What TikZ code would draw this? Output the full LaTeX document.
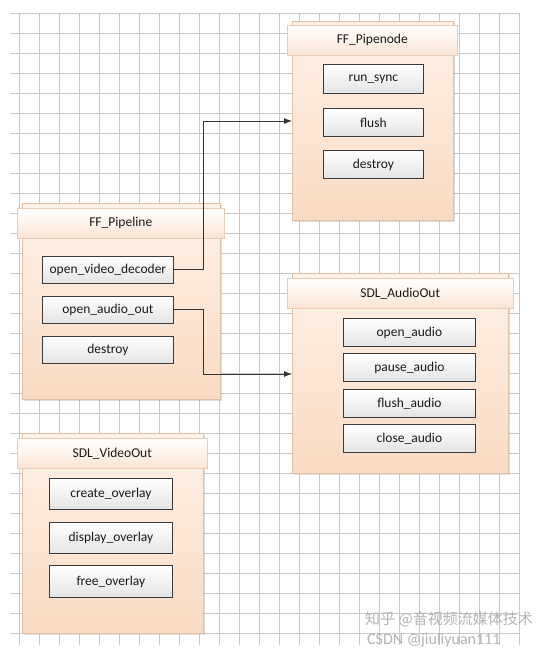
\documentclass[tikz,border=0pt]{standalone}
\usepackage{fontspec}
\setmainfont{Carlito}
\newfontfamily\cjkfont{Noto Sans CJK SC}
\usetikzlibrary{arrows.meta,shadows}
\definecolor{gridc}{HTML}{C8C8C8}
\definecolor{bodytop}{HTML}{FDF1E8}
\definecolor{bodybot}{HTML}{F9DBC3}
\definecolor{bodyline}{HTML}{E3BFA3}
\definecolor{headtop}{HTML}{FFFFFF}
\definecolor{headbot}{HTML}{FBE4D4}
\definecolor{itemtop}{HTML}{FFFFFF}
\definecolor{itembot}{HTML}{E4E4E4}
\definecolor{itemline}{HTML}{3A3A3A}
\definecolor{wmark}{HTML}{B4B4B4}
\tikzset{
  gridline/.style={draw=gridc, line width=0.6pt},
  groupbody/.style={draw=bodyline, line width=0.7pt, top color=bodytop, bottom color=bodybot,
    anchor=north west, inner sep=0pt, drop shadow={shadow xshift=1.2pt, shadow yshift=-1.2pt, opacity=0.25}},
  grouphead/.style={draw=bodyline!80, line width=0.6pt, top color=headtop, bottom color=headbot,
    anchor=north west, inner sep=0pt, font=\fontsize{13.5}{15}\selectfont, text=black!90},
  itembox/.style={draw=itemline, line width=0.8pt, top color=itemtop, bottom color=itembot,
    anchor=north west, inner sep=0pt, font=\fontsize{13.5}{15}\selectfont, text=black!90},
  link/.style={draw=black!80, line width=0.9pt, -{Latex[length=8pt,width=6pt]}},
  wm/.style={text=wmark, anchor=west, inner sep=0pt}
}
\begin{document}
\begin{tikzpicture}[x=1pt,y=-1pt]
\useasboundingbox[fill=white] (0,0) rectangle (548,653);
% grid
\foreach \gx in {19,39,...,519} \draw[gridline] (\gx,13) -- (\gx,645);
\foreach \gy in {13,33,...,633} \draw[gridline] (10,\gy) -- (520,\gy);

% FF_Pipenode
\node[groupbody, minimum width=161pt, minimum height=199pt] (pnbody) at (292,21) {};
\node[grouphead, minimum width=170pt, minimum height=30pt] (pnhead) at (287,25) {FF\_Pipenode};
\node[itembox, minimum width=100pt, minimum height=29pt] (runsync) at (323,64) {run\_sync};
\node[itembox, minimum width=100pt, minimum height=28pt] (pnflush) at (323,108) {flush};
\node[itembox, minimum width=100pt, minimum height=28pt] (pndestroy) at (323,150) {destroy};

% FF_Pipeline
\node[groupbody, minimum width=198pt, minimum height=196pt] (plbody) at (22,203) {};
\node[grouphead, minimum width=207pt, minimum height=30pt] (plhead) at (17,208) {FF\_Pipeline};
\node[itembox, minimum width=131pt, minimum height=27pt] (ovd) at (42,256) {open\_video\_decoder};
\node[itembox, minimum width=131pt, minimum height=27pt] (oao) at (42,296) {open\_audio\_out};
\node[itembox, minimum width=131pt, minimum height=27pt] (pldestroy) at (42,336) {destroy};

% SDL_AudioOut
\node[groupbody, minimum width=216pt, minimum height=200pt] (aobody) at (292,273) {};
\node[grouphead, minimum width=226pt, minimum height=30pt] (aohead) at (287,278) {SDL\_AudioOut};
\node[itembox, minimum width=132pt, minimum height=28pt] (openaudio) at (343,318) {open\_audio};
\node[itembox, minimum width=132pt, minimum height=28pt] (pauseaudio) at (343,353) {pause\_audio};
\node[itembox, minimum width=132pt, minimum height=28pt] (flushaudio) at (343,389) {flush\_audio};
\node[itembox, minimum width=132pt, minimum height=28pt] (closeaudio) at (343,424) {close\_audio};

% SDL_VideoOut
\node[groupbody, minimum width=181pt, minimum height=200pt] (vobody) at (22,433) {};
\node[grouphead, minimum width=190pt, minimum height=30pt] (vohead) at (17,438) {SDL\_VideoOut};
\node[itembox, minimum width=123pt, minimum height=31pt] (createov) at (49,478) {create\_overlay};
\node[itembox, minimum width=123pt, minimum height=31pt] (displayov) at (49,522) {display\_overlay};
\node[itembox, minimum width=123pt, minimum height=32pt] (freeov) at (49,565) {free\_overlay};

% connectors
\draw[link] (ovd.east) -- (203,0 |- ovd.east) -- (203,121) -- (pnbody.west |- 0,121);
\draw[link] (oao.east) -- (203,0 |- oao.east) -- (203,374) -- (aobody.west |- 0,374);

% watermarks
\node[wm, font=\fontsize{15}{17}\selectfont] (wmzhihu) at (365,619) {\cjkfont 知乎 @音视频流媒体技术};
\node[wm, font=\fontsize{16}{18}\selectfont] (wmcsdn) at (367,640) {CSDN @jiuliyuan111};
\end{tikzpicture}
\end{document}
